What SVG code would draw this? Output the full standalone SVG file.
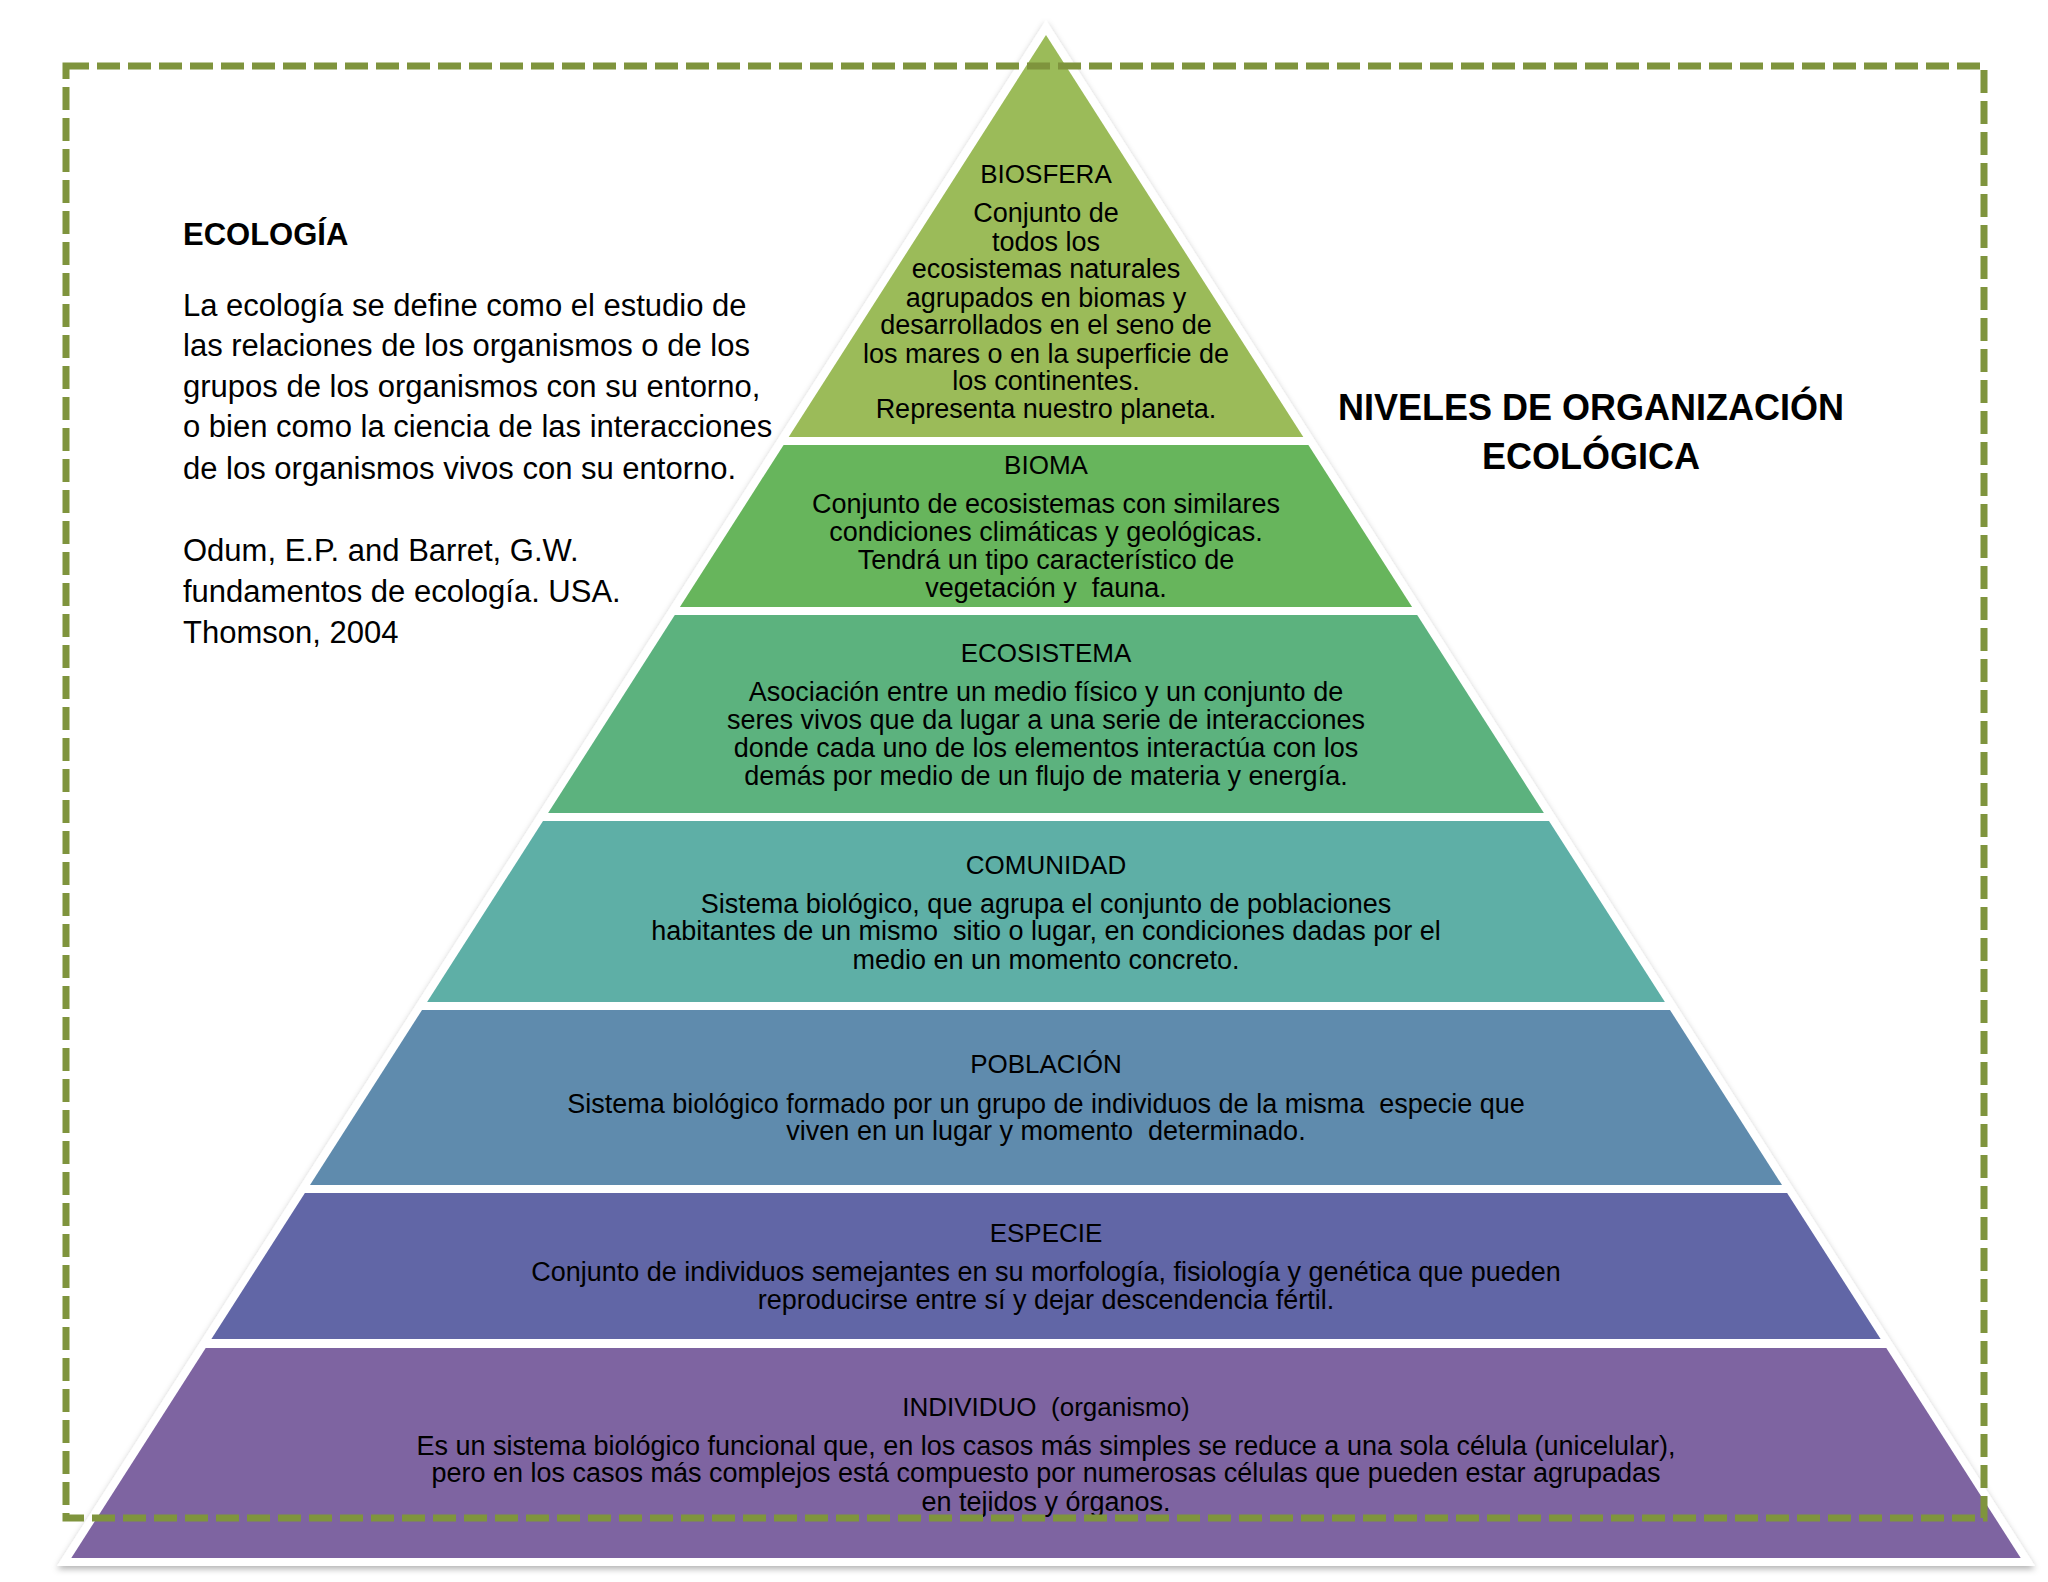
<svg xmlns="http://www.w3.org/2000/svg" width="2048" height="1582" viewBox="0 0 2048 1582">
<style>
text { font-family: "Liberation Sans", Arial, sans-serif; fill: #000; white-space: pre; }
.lt { font-size: 31px; }
.lb { font-size: 31px; font-weight: bold; }
.tt { font-size: 36px; font-weight: bold; text-anchor: middle; }
.ph { font-size: 26px; text-anchor: middle; }
.pb { font-size: 27px; text-anchor: middle; }
.border { fill: none; stroke: #7F943D; stroke-width: 7; stroke-dasharray: 23 8; }
</style>
<defs>
<filter id="sh" x="-5%" y="-5%" width="110%" height="110%">
<feDropShadow dx="0" dy="3" stdDeviation="3" flood-color="#000" flood-opacity="0.3"/>
</filter>
</defs>
<rect x="0" y="0" width="2048" height="1582" fill="#ffffff"/>

<g id="pyramid-outline">
<polygon points="1046,20 2035,1566 57,1566" fill="#ffffff" filter="url(#sh)"/>
</g>

<g id="biosfera">
<polygon points="1046,35 1303.3,437 788.7,437" fill="#9BBB59"/>
<text class="ph" x="1046" y="183">BIOSFERA</text>
<text class="pb" x="1046" y="222">Conjunto de</text>
<text class="pb" x="1046" y="251">todos los</text>
<text class="pb" x="1046" y="278">ecosistemas naturales</text>
<text class="pb" x="1046" y="307">agrupados en biomas y</text>
<text class="pb" x="1046" y="334">desarrollados en el seno de</text>
<text class="pb" x="1046" y="363">los mares o en la superficie de</text>
<text class="pb" x="1046" y="390">los continentes.</text>
<text class="pb" x="1046" y="418">Representa nuestro planeta.</text>
</g>

<g id="bioma">
<polygon points="783.6,445 1308.4,445 1412.1,607 679.9,607" fill="#67B55C"/>
<text class="ph" x="1046" y="474">BIOMA</text>
<text class="pb" x="1046" y="513">Conjunto de ecosistemas con similares</text>
<text class="pb" x="1046" y="541">condiciones climáticas y geológicas.</text>
<text class="pb" x="1046" y="569">Tendrá un tipo característico de</text>
<text class="pb" x="1046" y="597">vegetación y  fauna.</text>
</g>

<g id="ecosistema">
<polygon points="674.8,615 1417.2,615 1543.9,813 548.1,813" fill="#5CB27E"/>
<text class="ph" x="1046" y="662">ECOSISTEMA</text>
<text class="pb" x="1046" y="701">Asociación entre un medio físico y un conjunto de</text>
<text class="pb" x="1046" y="729">seres vivos que da lugar a una serie de interacciones</text>
<text class="pb" x="1046" y="757">donde cada uno de los elementos interactúa con los</text>
<text class="pb" x="1046" y="785">demás por medio de un flujo de materia y energía.</text>
</g>

<g id="comunidad">
<polygon points="543,821 1549,821 1664.9,1002 427.1,1002" fill="#5EAFA6"/>
<text class="ph" x="1046" y="874">COMUNIDAD</text>
<text class="pb" x="1046" y="913">Sistema biológico, que agrupa el conjunto de poblaciones</text>
<text class="pb" x="1046" y="940">habitantes de un mismo  sitio o lugar, en condiciones dadas por el</text>
<text class="pb" x="1046" y="969">medio en un momento concreto.</text>
</g>

<g id="poblacion">
<polygon points="422,1010 1670,1010 1782,1185 310,1185" fill="#5F8BAD"/>
<text class="ph" x="1046" y="1073">POBLACIÓN</text>
<text class="pb" x="1046" y="1113">Sistema biológico formado por un grupo de individuos de la misma  especie que</text>
<text class="pb" x="1046" y="1140">viven en un lugar y momento  determinado.</text>
</g>

<g id="especie">
<polygon points="304.9,1193 1787.1,1193 1880.6,1339 211.4,1339" fill="#6166A6"/>
<text class="ph" x="1046" y="1242">ESPECIE</text>
<text class="pb" x="1046" y="1281">Conjunto de individuos semejantes en su morfología, fisiología y genética que pueden</text>
<text class="pb" x="1046" y="1309">reproducirse entre sí y dejar descendencia fértil.</text>
</g>

<g id="individuo">
<polygon points="205.7,1348 1886.3,1348 2020.7,1558 71.3,1558" fill="#7E64A1"/>
<text class="ph" x="1046" y="1416">INDIVIDUO  (organismo)</text>
<text class="pb" x="1046" y="1455">Es un sistema biológico funcional que, en los casos más simples se reduce a una sola célula (unicelular),</text>
<text class="pb" x="1046" y="1482">pero en los casos más complejos está compuesto por numerosas células que pueden estar agrupadas</text>
<text class="pb" x="1046" y="1511">en tejidos y órganos.</text>
</g>

<g id="frame">
<path class="border" d="M66,66 L1984,66 L1984,1518 L66,1518 Z"/>
</g>

<g id="ecologia-text">
<text class="lb" x="183" y="245">ECOLOGÍA</text>
<text class="lt" x="183" y="316">La ecología se define como el estudio de</text>
<text class="lt" x="183" y="356">las relaciones de los organismos o de los</text>
<text class="lt" x="183" y="397">grupos de los organismos con su entorno,</text>
<text class="lt" x="183" y="437">o bien como la ciencia de las interacciones</text>
<text class="lt" x="183" y="479">de los organismos vivos con su entorno.</text>
<text class="lt" x="183" y="561">Odum, E.P. and Barret, G.W.</text>
<text class="lt" x="183" y="602">fundamentos de ecología. USA.</text>
<text class="lt" x="183" y="643">Thomson, 2004</text>
</g>

<g id="title">
<text class="tt" x="1591" y="420">NIVELES DE ORGANIZACIÓN</text>
<text class="tt" x="1591" y="469">ECOLÓGICA</text>
</g>

<g id="connectors"></g>
</svg>
